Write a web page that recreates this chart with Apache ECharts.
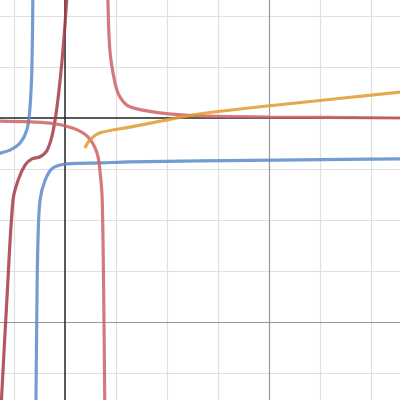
<!DOCTYPE html>
<html><head><meta charset="utf-8">
<script src="https://cdn.jsdelivr.net/npm/echarts@6/dist/echarts.min.js"></script>
<style>html,body{margin:0;padding:0;background:#fff}#c{width:400px;height:400px}</style>
</head><body><div id="c"></div>
<script>
const blueLeft=[[-1.30,-0.70],[-1.27,-0.69],[-1.08,-0.63],[-0.88,-0.49],[-0.75,-0.24],[-0.69,0.16],[-0.65,0.96],[-0.63,2.4]];
const blueRight=[[-0.57,-5.6],[-0.55,-3.57],[-0.53,-2.39],[-0.49,-1.61],[-0.39,-1.22],[-0.24,-0.98],[0.04,-0.90],[0.69,-0.88],[1.27,-0.86],[2.65,-0.84],[4.61,-0.82],[6.6,-0.80]];
const darkRed=[[-1.25,-5.6],[-1.14,-3.57],[-1.02,-1.61],[-0.92,-1.22],[-0.78,-0.92],[-0.65,-0.80],[-0.49,-0.76],[-0.35,-0.63],[-0.24,-0.29],[-0.14,0.35],[-0.04,1.33],[0.04,2.4]];
const pinkLeft=[[-1.30,-0.06],[-0.29,-0.10],[0.16,-0.20],[0.45,-0.37],[0.63,-0.69],[0.69,-1.08],[0.73,-1.61],[0.76,-3.57],[0.78,-5.6]];
const pinkRight=[[0.84,2.4],[0.88,1.33],[0.98,0.69],[1.08,0.41],[1.27,0.22],[1.86,0.10],[2.65,0.04],[4.02,0.02],[6.6,0.0]];
const orange=[[0.39,-0.59],[0.49,-0.43],[0.69,-0.29],[1.27,-0.18],[2.65,0.08],[4.02,0.24],[6.6,0.51]];
const xGrid=[-1,1,2,3,5,6];
const yGrid=[-5,-3,-2,-1,1,2];
const xMajor=[4], yMajor=[-4];
const xRange=[-1.2745,6.5686], yRange=[-5.5294,2.3137];
const chart=echarts.init(document.getElementById('c'));
function ml(xs,ys,color,w){
  return {silent:true,symbol:'none',label:{show:false},lineStyle:{color:color,width:w,type:'solid'},
    data:[...xs.map(v=>({xAxis:v})),...ys.map(v=>({yAxis:v}))]};
}
function curve(d,c,z){return {type:'line',data:d,showSymbol:false,smooth:0.3,clip:true,z:z,lineStyle:{color:c,width:3.2,opacity:0.85},itemStyle:{color:c}};}
chart.setOption({animation:false,
 grid:{left:0,right:0,top:0,bottom:0},
 xAxis:{type:'value',min:xRange[0],max:xRange[1],show:false},
 yAxis:{type:'value',min:yRange[0],max:yRange[1],show:false},
 series:[
  {type:'line',data:[],markLine:ml(xGrid,yGrid,'#e0e0e0',1.2),z:1},
  {type:'line',data:[],markLine:ml(xMajor,yMajor,'#999',1.2),z:1},
  {type:'line',data:[],markLine:ml([0],[0],'#222',1.5),z:2},
  curve(blueLeft,'#5b8cc9',5),curve(blueRight,'#5b8cc9',5),
  curve(darkRed,'#a63a4a',5),
  curve(pinkLeft,'#cc6366',5),curve(pinkRight,'#cc6366',5),
  curve(orange,'#e09a30',6)
 ]});
</script></body></html>
